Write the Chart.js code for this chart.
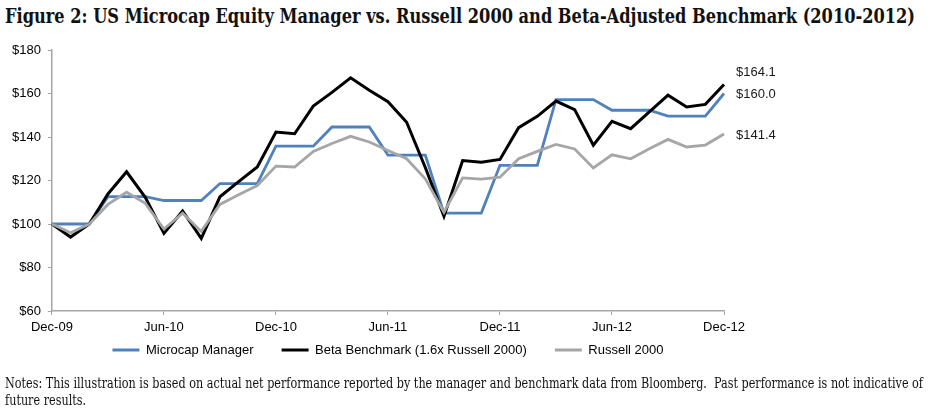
<!DOCTYPE html>
<html>
<head>
<meta charset="utf-8">
<script src="https://cdn.jsdelivr.net/npm/chart.js@4.4.1/dist/chart.umd.min.js"></script>
<style>
  body { margin: 0; background: #fff; width: 932px; height: 415px; overflow: hidden; position: relative; }
  .fit { position: absolute; left: 5px; white-space: nowrap; transform-origin: 0 0; color: #111; }
  #title { top: 4px; font: bold 20px "DejaVu Serif Condensed", "DejaVu Serif", serif; }
  #notes { top: 375px; font: 14px/17px "DejaVu Serif Condensed", "DejaVu Serif", serif; }
  #wrap { position: absolute; left: 0; top: 0; }
</style>
</head>
<body>
<div id="title" class="fit" data-w="910">Figure 2: US Microcap Equity Manager vs. Russell 2000 and Beta-Adjusted Benchmark (2010-2012)</div>
<div id="wrap"><canvas id="chart" width="932" height="415"></canvas></div>
<div id="notes" class="fit" data-w="918">Notes: This illustration is based on actual net performance reported by the manager and benchmark data from Bloomberg.&nbsp; Past performance is not indicative of<br>future results.</div>
<script>
// monthly, Dec-09 .. Dec-12
const months = ['Dec-09','Jan-10','Feb-10','Mar-10','Apr-10','May-10','Jun-10','Jul-10','Aug-10','Sep-10','Oct-10','Nov-10',
  'Dec-10','Jan-11','Feb-11','Mar-11','Apr-11','May-11','Jun-11','Jul-11','Aug-11','Sep-11','Oct-11','Nov-11',
  'Dec-11','Jan-12','Feb-12','Mar-12','Apr-12','May-12','Jun-12','Jul-12','Aug-12','Sep-12','Oct-12','Nov-12','Dec-12'];

const manager = [100, 100, 100, 112.6, 112.6, 112.6, 110.8, 110.8, 110.8, 118.6, 118.6, 118.6,
  135.8, 135.8, 135.8, 144.6, 144.6, 144.6, 131.7, 131.7, 131.7, 105, 105, 105,
  127, 127, 127, 157.2, 157.2, 157.2, 152.3, 152.3, 152.3, 149.6, 149.6, 149.6, 160.0];

const beta = [100, 94, 100, 113.8, 124, 112.3, 95.7, 106, 93.4, 112.5, 119.5, 126.2,
  142.3, 141.5, 154.2, 160.5, 167.2, 161.5, 156.2, 146.8, 126, 103.5, 129.2, 128.4,
  129.7, 144.3, 149.5, 156.5, 152.6, 136.2, 147.2, 143.8, 151.5, 159.2, 153.8, 155.0, 164.1];

const russell = [100, 96, 100, 109, 114.6, 109.5, 97.7, 105, 96.6, 109, 113.5, 117.7,
  126.6, 126.2, 133.4, 137, 140.3, 137.7, 133.8, 130, 120.8, 105.4, 121.2, 120.6,
  121.5, 130, 133.4, 136.6, 134.5, 125.8, 131.8, 130, 134.6, 138.9, 135.4, 136.3, 141.4];

const seriesNames = ['Microcap Manager', 'Beta Benchmark (1.6x Russell 2000)', 'Russell 2000'];
const seriesColors = ['#4f81bd', '#000000', '#a6a6a6'];
const yTicks = [60, 80, 100, 120, 140, 160, 180];

const axisGray = '#a6a6a6';
const labelFont = { family: '"Liberation Sans", Arial, sans-serif', size: 13 };

// end-of-line value labels (top one nudged up like Excel does to avoid overlap)
const endLabelShift = [1, -12, 1];
const endLabels = {
  id: 'endLabels',
  afterLayout(chart) {
    // pull the legend row up closer to the axis labels
    const lg = chart.legend;
    if (lg) { lg.top -= 25; lg.bottom -= 25; }
  },
  afterDatasetsDraw(chart) {
    const ctx = chart.ctx;
    const x = chart.chartArea.right + 12;
    ctx.save();
    ctx.font = '13px "Liberation Sans", Arial, sans-serif';
    ctx.fillStyle = '#1a1a1a';
    ctx.textAlign = 'left';
    ctx.textBaseline = 'middle';
    chart.data.datasets.forEach((ds, i) => {
      const v = ds.data[ds.data.length - 1];
      const y = chart.scales.y.getPixelForValue(v) + endLabelShift[i];
      ctx.fillText('$' + v.toFixed(1), x, y);
    });
    ctx.restore();
  }
};

const allSeries = [manager, beta, russell];
const datasets = allSeries.map((data, i) => ({
  label: seriesNames[i],
  data: data,
  borderColor: seriesColors[i],
  backgroundColor: seriesColors[i],
  borderWidth: i === 1 ? 3 : 2.8,
  pointRadius: 0,
  tension: 0,
  order: 3 - i
}));

new Chart(document.getElementById('chart').getContext('2d'), {
  type: 'line',
  data: { labels: months, datasets: datasets },
  options: {
    responsive: false,
    animation: false,
    devicePixelRatio: 1,
    layout: { padding: { left: 5, right: 208, top: 50, bottom: 23.4 } },
    scales: {
      x: {
        offset: false,
        grid: { drawOnChartArea: false, tickLength: 4, color: axisGray },
        border: { color: axisGray, width: 1.5 },
        ticks: {
          autoSkip: false,
          maxRotation: 0,
          padding: 5,
          color: '#000',
          font: labelFont,
          callback(val, idx) { return idx % 6 === 0 ? months[idx] : null; }
        }
      },
      y: {
        min: 60,
        max: 180,
        afterBuildTicks(scale) { scale.ticks = yTicks.map(v => ({ value: v })); },
        grid: { drawOnChartArea: false, tickLength: 4, color: axisGray },
        border: { color: axisGray, width: 1.5 },
        ticks: {
          padding: 7,
          color: '#000',
          font: labelFont,
          callback(v) { return '$' + v; }
        }
      }
    },
    plugins: {
      tooltip: { enabled: false },
      legend: {
        position: 'bottom',
        fullSize: false,
        labels: {
          boxWidth: 27,
          boxHeight: 3,
          padding: 28,
          color: '#000',
          font: labelFont,
          sort: (a, b) => a.datasetIndex - b.datasetIndex,
          generateLabels(chart) {
            return Chart.defaults.plugins.legend.labels.generateLabels(chart)
              .map(item => Object.assign(item, { lineWidth: 0 }));
          }
        }
      }
    }
  },
  plugins: [endLabels]
});

// squeeze the serif text blocks to the reference width
document.querySelectorAll('.fit').forEach(el => {
  const w = el.getBoundingClientRect().width;
  el.style.transform = 'scaleX(' + (Number(el.dataset.w) / w) + ')';
});
</script>
</body>
</html>
